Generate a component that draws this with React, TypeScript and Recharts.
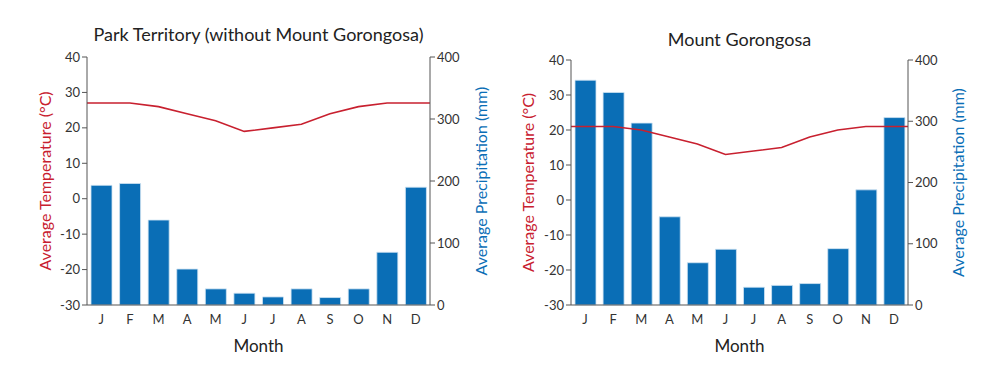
import { ComposedChart, Bar, Line, XAxis, YAxis } from 'recharts';

const months = ['J', 'F', 'M', 'A', 'M', 'J', 'J', 'A', 'S', 'O', 'N', 'D'];

const parkTemp = [27, 27, 26, 24, 22, 19, 20, 21, 24, 26, 27, 27];
const parkPrecip = [193, 196, 137, 58, 26, 19, 13, 26, 12, 26, 85, 190];

const mountTemp = [21, 21, 20, 18, 16, 13, 14, 15, 18, 20, 21, 21];
const mountPrecip = [367, 347, 297, 144, 69, 91, 29, 32, 35, 92, 188, 306];

const tempTicks = [-30, -20, -10, 0, 10, 20, 30, 40];
const precipTicks = [0, 100, 200, 300, 400];

const FONT = 'Lato, "Open Sans", sans-serif';
const RED = '#c8202f';
const BLUE = '#0a6eb6';
const AXIS = '#555';

const ClimateChart = ({ title, temp, precip, left, width, leftW, rightW, top, titleTop, tempDx, precipDx }: {
  title: string,
  temp: number[],
  precip: number[],
  left: number,
  width: number,
  leftW: number,
  rightW: number,
  top: number,
  titleTop: number,
  tempDx: number,
  precipDx: number
}) => {
  const data = months.map((m, i) => ({ name: m, idx: i, temp: temp[i], precip: precip[i] }));
  // the line runs flat out to the frame at both ends, as in the original
  const lineData = [
    { pos: -0.5, temp: temp[0] },
    ...temp.map((t, i) => ({ pos: i, temp: t })),
    { pos: 11.5, temp: temp[temp.length - 1] }
  ];
  return (
    <div style={{ position: 'absolute', left, top: 0, width, height: 379 }}>
      <div style={{
        position: 'absolute', left: leftW, width: width - leftW - rightW, top: titleTop,
        textAlign: 'center', fontFamily: FONT, fontSize: 18, color: '#222', lineHeight: '20px'
      }}>{title}</div>
      <ComposedChart
        width={width}
        height={379}
        data={data}
        margin={{ top, right: 0, left: 0, bottom: 0 }}
        style={{ fontFamily: FONT }}
      >
        <XAxis
          dataKey="idx"
          xAxisId="main"
          tickFormatter={(v: number) => months[v]}
          interval={0}
          tickLine={false}
          height={379 - 305}
          stroke={AXIS}
          tick={{ fill: '#333', fontSize: 13 }}
          tickMargin={4}
          label={{ value: 'Month', position: 'center', dy: 4, fill: '#222', fontSize: 17 }}
        />
        <XAxis xAxisId="top" orientation="top" dataKey="idx" tick={false} tickLine={false} height={0} stroke={AXIS} />
        <XAxis xAxisId="line" type="number" dataKey="pos" domain={[-0.5, 11.5]} height={0} hide />
        <YAxis
          yAxisId="temp"
          domain={[-30, 40]}
          ticks={tempTicks}
          width={leftW}
          stroke={AXIS}
          tickSize={5}
          tick={{ fill: '#333', fontSize: 13 }}
          label={{ value: 'Average Temperature (°C)', angle: -90, position: 'center', dx: tempDx, fill: RED, fontSize: 16 }}
        />
        <YAxis
          yAxisId="precip"
          orientation="right"
          domain={[0, 400]}
          ticks={precipTicks}
          width={rightW}
          stroke={AXIS}
          tickSize={5}
          tick={{ fill: '#333', fontSize: 13 }}
          label={{ value: 'Average Precipitation (mm)', angle: -90, position: 'center', dx: precipDx, fill: BLUE, fontSize: 16 }}
        />
        <Bar
          xAxisId="main"
          yAxisId="precip"
          dataKey="precip"
          fill={BLUE}
          stroke="#cfe3f3"
          strokeWidth={0.8}
          barSize={21}
          isAnimationActive={false}
        />
        <Line
          xAxisId="line"
          yAxisId="temp"
          data={lineData}
          dataKey="temp"
          type="linear"
          stroke={RED}
          strokeWidth={1.6}
          dot={false}
          isAnimationActive={false}
        />
      </ComposedChart>
    </div>
  );
};

export default function App() {
  return (
    <div style={{ position: 'absolute', left: 0, top: 0, width: 985, height: 379, background: '#fff' }}>
      <ClimateChart
        title="Park Territory (without Mount Gorongosa)"
        temp={parkTemp}
        precip={parkPrecip}
        left={0}
        width={500}
        leftW={87}
        rightW={70}
        top={57}
        titleTop={24}
        tempDx={2}
        precipDx={16}
      />
      <ClimateChart
        title="Mount Gorongosa"
        temp={mountTemp}
        precip={mountPrecip}
        left={500}
        width={485}
        leftW={71}
        rightW={77}
        top={60}
        titleTop={29}
        tempDx={-7}
        precipDx={12}
      />
    </div>
  );
}
